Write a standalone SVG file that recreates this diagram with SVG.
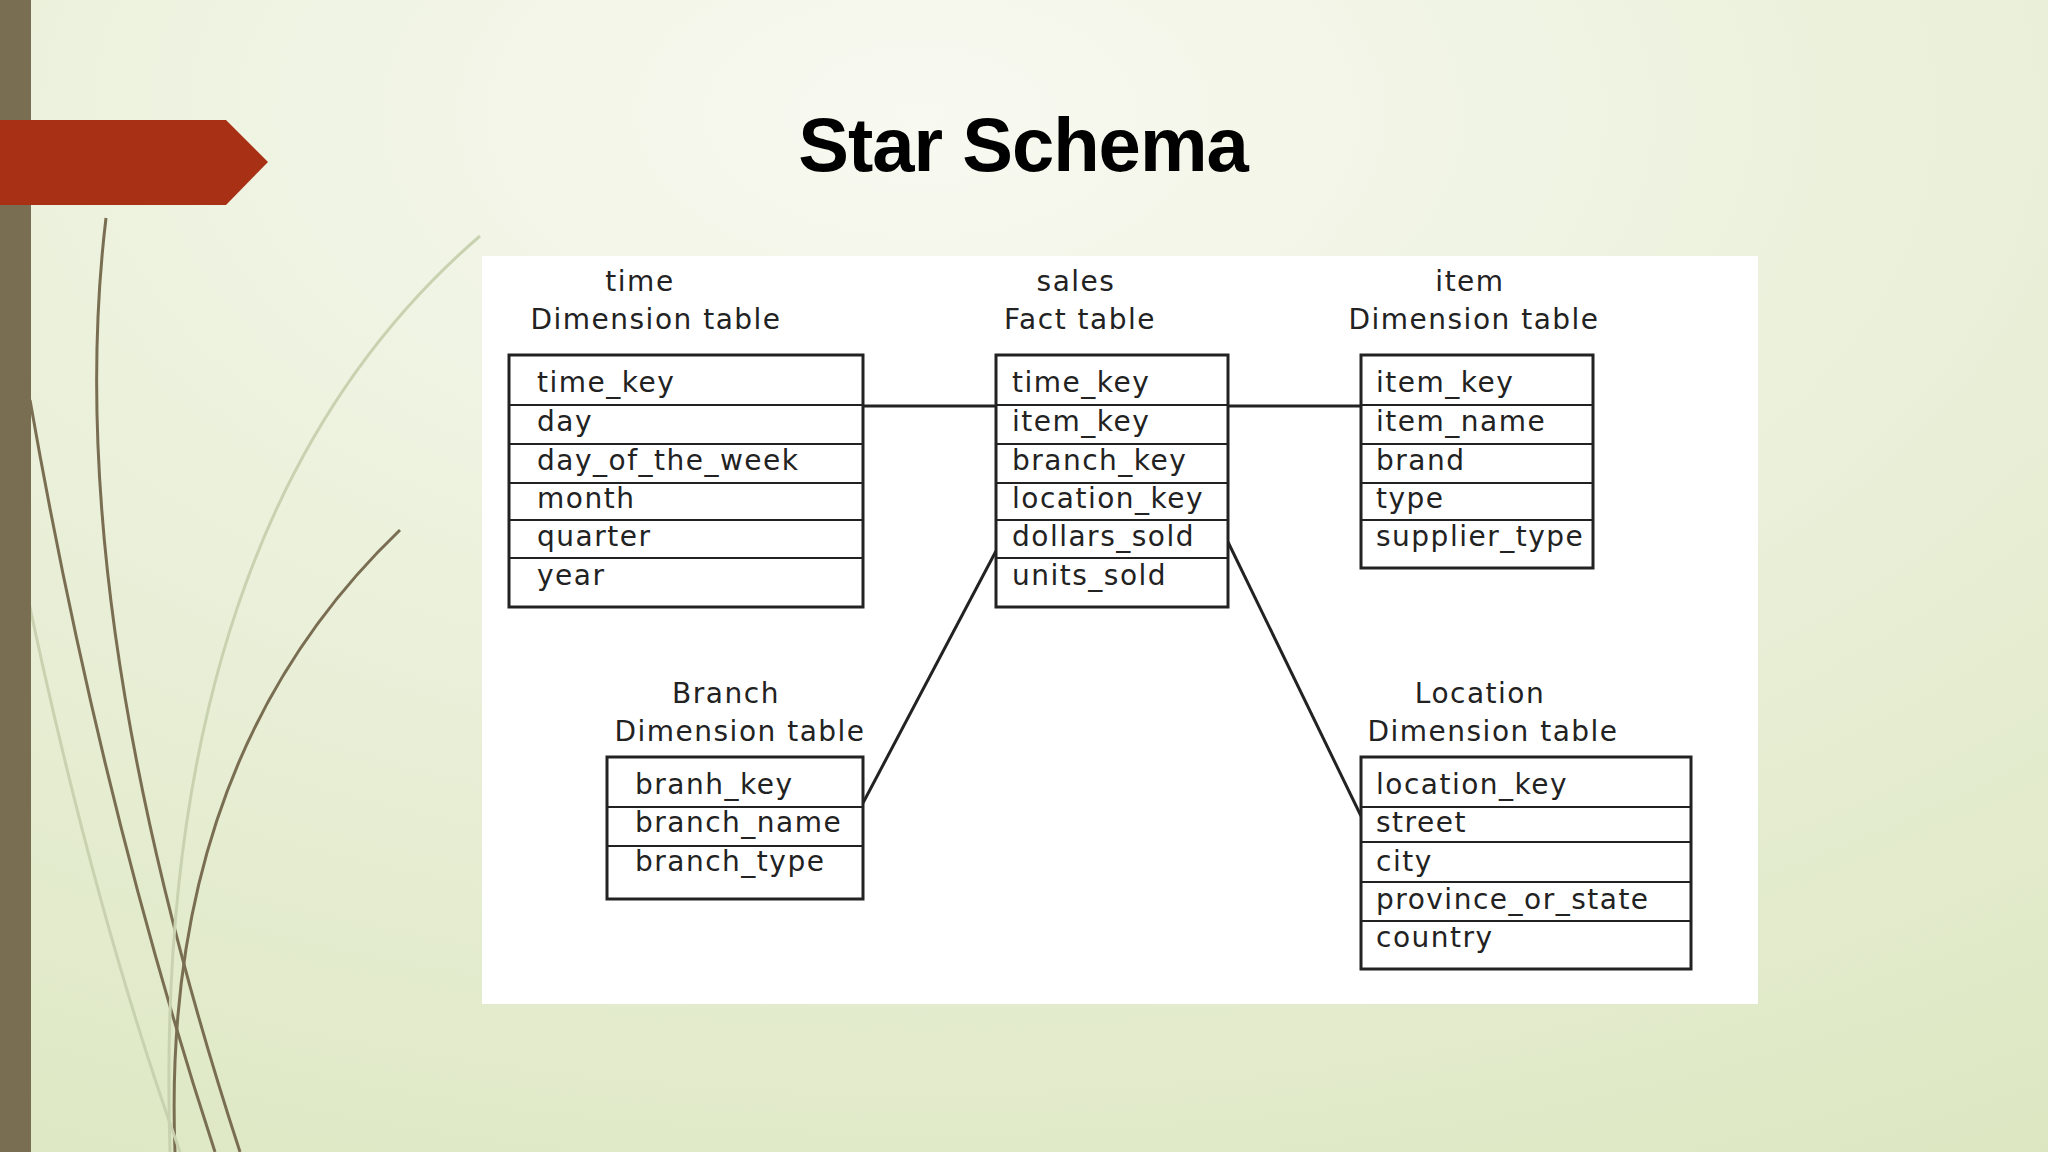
<svg xmlns="http://www.w3.org/2000/svg" width="2048" height="1152" viewBox="0 0 2048 1152">
<defs>
<radialGradient id="bg" cx="0.45" cy="0.1" r="1.1">
<stop offset="0" stop-color="#f8f9f1"/><stop offset="1" stop-color="#dbe6bf"/>
</radialGradient>
<style>
.t{font-family:"DejaVu Sans",sans-serif;font-size:28px;fill:#222;letter-spacing:1.5px}
.h{font-family:"DejaVu Sans",sans-serif;font-size:28px;fill:#222;text-anchor:middle;letter-spacing:1.5px}
.box{fill:#fff;stroke:#222;stroke-width:3}
.ln{stroke:#222;stroke-width:2}
.c{stroke:#222;stroke-width:3;fill:none}
.d{fill:none;stroke:#7a6e52;stroke-width:3}
</style>
</defs>
<rect width="2048" height="1152" fill="url(#bg)"/>
<path class="d" d="M106 218 Q60 600 240 1152"/>
<path class="d" d="M30 400 Q100 800 215 1152"/>
<path class="d" d="M400 530 Q160 760 175 1152" stroke-width="4"/>
<path d="M480 236 Q150 520 170 1152" fill="none" stroke="#c9d2b0" stroke-width="3"/>
<path d="M20 560 Q90 900 180 1152" fill="none" stroke="#c9d2b0" stroke-width="3"/>
<rect x="0" y="0" width="31" height="1152" fill="#7a6e52"/>
<polygon points="0,120 226,120 268,162 226,205 0,205" fill="#a83014"/>
<text x="1023" y="171" text-anchor="middle" font-family="Liberation Sans, Arial, sans-serif" font-size="76" font-weight="bold" letter-spacing="-1" fill="#000">Star Schema</text>
<rect x="482" y="256" width="1276" height="748" fill="#fff"/>
<g id="connectors">
<line class="c" x1="863" y1="406" x2="996" y2="406"/>
<line class="c" x1="1228" y1="406" x2="1361" y2="406"/>
<line class="c" x1="996" y1="551" x2="863" y2="803"/>
<line class="c" x1="1228" y1="542" x2="1361" y2="816"/>
</g>
<g id="time">
<text class="h" x="640" y="291">time</text>
<text class="h" x="656" y="329">Dimension table</text>
<rect class="box" x="509" y="355" width="354" height="252"/>
<path class="ln" d="M509 405H863M509 444H863M509 483H863M509 520H863M509 558H863"/>
<text class="t" x="537" y="392">time_key</text><text class="t" x="537" y="431">day</text><text class="t" x="537" y="470">day_of_the_week</text><text class="t" x="537" y="508">month</text><text class="t" x="537" y="546">quarter</text><text class="t" x="537" y="585">year</text>
</g>
<g id="sales">
<text class="h" x="1076" y="291">sales</text>
<text class="h" x="1080" y="329">Fact table</text>
<rect class="box" x="996" y="355" width="232" height="252"/>
<path class="ln" d="M996 405H1228M996 444H1228M996 483H1228M996 520H1228M996 558H1228"/>
<text class="t" x="1012" y="392">time_key</text><text class="t" x="1012" y="431">item_key</text><text class="t" x="1012" y="470">branch_key</text><text class="t" x="1012" y="508">location_key</text><text class="t" x="1012" y="546">dollars_sold</text><text class="t" x="1012" y="585">units_sold</text>
</g>
<g id="item">
<text class="h" x="1470" y="291">item</text>
<text class="h" x="1474" y="329">Dimension table</text>
<rect class="box" x="1361" y="355" width="232" height="213"/>
<path class="ln" d="M1361 405H1593M1361 444H1593M1361 483H1593M1361 520H1593"/>
<text class="t" x="1376" y="392">item_key</text><text class="t" x="1376" y="431">item_name</text><text class="t" x="1376" y="470">brand</text><text class="t" x="1376" y="508">type</text><text class="t" x="1376" y="546">supplier_type</text>
</g>
<g id="branch">
<text class="h" x="726" y="703">Branch</text>
<text class="h" x="740" y="741">Dimension table</text>
<rect class="box" x="607" y="757" width="256" height="142"/>
<path class="ln" d="M607 807H863M607 846H863"/>
<text class="t" x="635" y="794">branh_key</text><text class="t" x="635" y="832">branch_name</text><text class="t" x="635" y="871">branch_type</text>
</g>
<g id="location">
<text class="h" x="1480" y="703">Location</text>
<text class="h" x="1493" y="741">Dimension table</text>
<rect class="box" x="1361" y="757" width="330" height="212"/>
<path class="ln" d="M1361 807H1691M1361 842H1691M1361 882H1691M1361 921H1691"/>
<text class="t" x="1376" y="794">location_key</text><text class="t" x="1376" y="832">street</text><text class="t" x="1376" y="871">city</text><text class="t" x="1376" y="909">province_or_state</text><text class="t" x="1376" y="947">country</text>
</g>
</svg>
